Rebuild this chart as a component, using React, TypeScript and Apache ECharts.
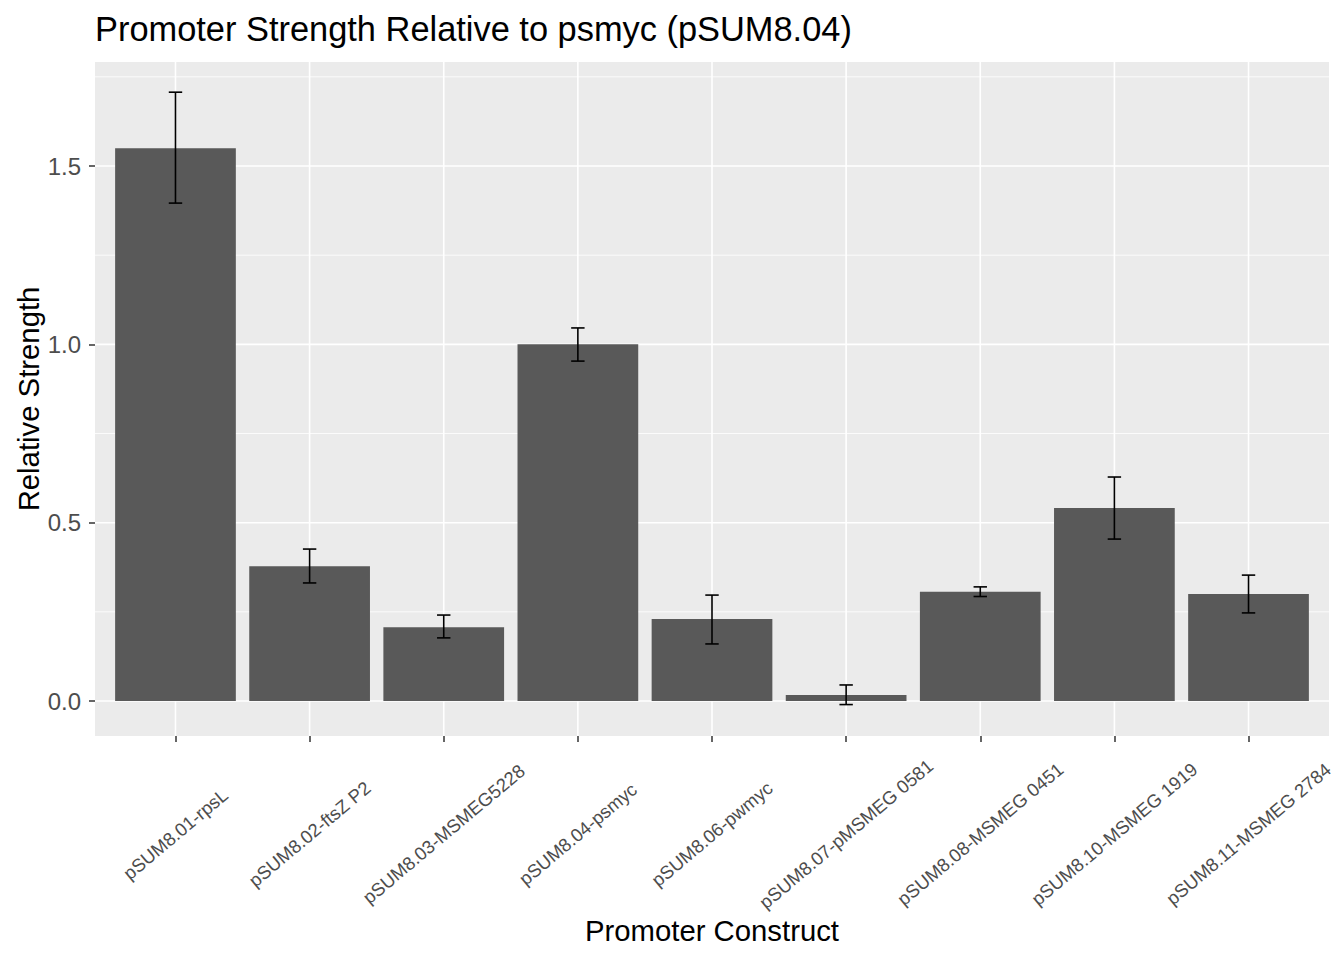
import React, { useEffect, useRef } from "react";
import * as echarts from "echarts";

const categories = [
  "pSUM8.01-rpsL",
  "pSUM8.02-ftsZ P2",
  "pSUM8.03-MSMEG5228",
  "pSUM8.04-psmyc",
  "pSUM8.06-pwmyc",
  "pSUM8.07-pMSMEG 0581",
  "pSUM8.08-MSMEG 0451",
  "pSUM8.10-MSMEG 1919",
  "pSUM8.11-MSMEG 2784",
];
const means = [1.55, 0.378, 0.207, 1.0, 0.23, 0.017, 0.306, 0.541, 0.3];
const lowers = [1.396, 0.331, 0.177, 0.953, 0.16, -0.01, 0.293, 0.454, 0.247];
const uppers = [1.707, 0.426, 0.241, 1.046, 0.297, 0.045, 0.32, 0.628, 0.353];
const yTicks = [0, 0.5, 1.0, 1.5];
const yMinorTicks = [0.25, 0.75, 1.25, 1.75];

const FONT = "'Liberation Sans', Arial, sans-serif";
const X_MIN = -0.6;
const X_MAX = categories.length - 1 + 0.6;
const Y_MIN = -0.0981;
const Y_MAX = 1.7916;

export default function App() {
  const ref = useRef<HTMLDivElement>(null);
  useEffect(() => {
    if (!ref.current) return;
    const chart = echarts.init(ref.current, null, { renderer: "svg" });
    const xIdx = categories.map((_, i) => i);
    const gridData: any[] = [
      ...yTicks.map((v) => ["h", v, 1.6]),
      ...yMinorTicks.map((v) => ["h", v, 0.8]),
      ...xIdx.map((v) => ["v", v, 1.6]),
    ];
    const option: any = {
      animation: false,
      backgroundColor: "#FFFFFF",
      grid: {
        left: 95,
        top: 62,
        width: 1234,
        height: 674,
        show: true,
        backgroundColor: "#EBEBEB",
        borderWidth: 0,
      },
      xAxis: {
        type: "value",
        min: X_MIN,
        max: X_MAX,
        axisLine: { show: false, onZero: false },
        splitLine: { show: false },
        axisTick: {
          show: true,
          customValues: xIdx,
          length: 6,
          lineStyle: { color: "#333333", width: 1.5 },
        },
        axisLabel: {
          customValues: xIdx,
          formatter: (v: number) => categories[Math.round(v)] ?? "",
          rotate: 40,
          align: "center",
          verticalAlign: "middle",
          margin: 98,
          color: "#4D4D4D",
          fontSize: 18.5,
          fontFamily: FONT,
        },
      },
      yAxis: {
        type: "value",
        min: Y_MIN,
        max: Y_MAX,
        axisLine: { show: false, onZero: false },
        splitLine: { show: false },
        axisTick: {
          show: true,
          customValues: yTicks,
          length: 6,
          lineStyle: { color: "#333333", width: 1.5 },
        },
        axisLabel: {
          customValues: yTicks,
          formatter: (v: number) => v.toFixed(1),
          margin: 14,
          color: "#4D4D4D",
          fontSize: 24,
          fontFamily: FONT,
        },
      },
      graphic: [
        {
          type: "text",
          left: 95,
          top: 12,
          style: {
            text: "Promoter Strength Relative to psmyc (pSUM8.04)",
            fill: "#000000",
            fontSize: 34.4,
            fontFamily: FONT,
          },
        },
        {
          type: "text",
          x: 712,
          y: 930,
          style: {
            text: "Promoter Construct",
            fill: "#000000",
            fontSize: 29.3,
            fontFamily: FONT,
            align: "center",
            verticalAlign: "middle",
          },
        },
        {
          type: "text",
          x: 28,
          y: 399,
          rotation: Math.PI / 2,
          style: {
            text: "Relative Strength",
            fill: "#000000",
            fontSize: 29.3,
            fontFamily: FONT,
            align: "center",
            verticalAlign: "middle",
          },
        },
      ],
      series: [
        {
          type: "custom",
          name: "grid",
          silent: true,
          z: 1,
          data: gridData,
          renderItem: (params: any, api: any) => {
            const item = gridData[params.dataIndex];
            const v = item[1];
            const w = item[2];
            let p1, p2;
            if (item[0] === "h") {
              p1 = api.coord([X_MIN, v]);
              p2 = api.coord([X_MAX, v]);
            } else {
              p1 = api.coord([v, Y_MIN]);
              p2 = api.coord([v, Y_MAX]);
            }
            return {
              type: "line",
              shape: { x1: p1[0], y1: p1[1], x2: p2[0], y2: p2[1] },
              style: { stroke: "#FFFFFF", lineWidth: w },
            };
          },
        },
        {
          type: "custom",
          name: "bars",
          z: 2,
          data: means.map((m, i) => [i, m]),
          renderItem: (params: any, api: any) => {
            const i = api.value(0);
            const m = api.value(1);
            const a = api.coord([i - 0.45, m]);
            const b = api.coord([i + 0.45, 0]);
            return {
              type: "rect",
              shape: { x: a[0], y: a[1], width: b[0] - a[0], height: b[1] - a[1] },
              style: { fill: "#595959" },
            };
          },
        },
        {
          type: "custom",
          name: "errors",
          z: 3,
          data: means.map((_, i) => [i, lowers[i], uppers[i]]),
          renderItem: (params: any, api: any) => {
            const i = api.value(0);
            const lo = api.value(1);
            const hi = api.value(2);
            const top = api.coord([i, hi]);
            const bot = api.coord([i, lo]);
            const tl = api.coord([i - 0.05, hi]);
            const tr = api.coord([i + 0.05, hi]);
            const bl = api.coord([i - 0.05, lo]);
            const br = api.coord([i + 0.05, lo]);
            const style = { stroke: "#000000", lineWidth: 1.6 };
            return {
              type: "group",
              children: [
                { type: "line", shape: { x1: top[0], y1: top[1], x2: bot[0], y2: bot[1] }, style },
                { type: "line", shape: { x1: tl[0], y1: tl[1], x2: tr[0], y2: tr[1] }, style },
                { type: "line", shape: { x1: bl[0], y1: bl[1], x2: br[0], y2: br[1] }, style },
              ],
            };
          },
        },
      ],
    };
    chart.setOption(option);
    return () => chart.dispose();
  }, []);
  return (
    <div
      ref={ref}
      style={{ position: "fixed", left: 0, top: 0, width: 1344, height: 960 }}
    />
  );
}
